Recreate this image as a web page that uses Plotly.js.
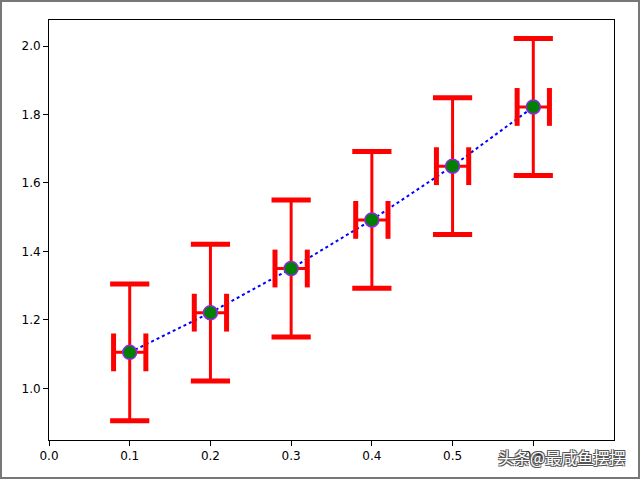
<!DOCTYPE html>
<html>
<head>
<meta charset="utf-8">
<script src="https://cdn.plot.ly/plotly-3.0.1.min.js"></script>
<style>
html,body{margin:0;padding:0;background:#fff;}
#wrap{position:relative;width:640px;height:479px;}
#chart{width:640px;height:479px;}
#frame{position:absolute;left:0;top:0;width:640px;height:479px;box-sizing:border-box;border:2px solid #777;pointer-events:none;}
</style>
</head>
<body>
<div id="wrap"><div id="chart"></div><div id="frame"></div></div>
<script>
const xVals = [0.1, 0.2, 0.3, 0.4, 0.5, 0.6];
const yVals = [1.105, 1.221, 1.350, 1.492, 1.649, 1.822];
const yErr = [0.2, 0.2, 0.2, 0.2, 0.2, 0.2];
const xErr = [0.02, 0.02, 0.02, 0.02, 0.02, 0.02];
const xTicks = [0.0, 0.1, 0.2, 0.3, 0.4, 0.5, 0.6];
const yTicks = [1.0, 1.2, 1.4, 1.6, 1.8, 2.0];
const watermark = '头条@最咸鱼摆摆';

const red = '#ff0000';
const traces = [
  {x: xVals, y: yVals, mode: 'lines', line: {color: '#0000ff', width: 2, dash: 'dot'}, hoverinfo: 'skip'},
  {x: xVals, y: yVals, mode: 'markers', marker: {size: 1, opacity: 0},
   error_y: {type: 'data', array: yErr, visible: true, color: red, thickness: 3, width: 0},
   error_x: {type: 'data', array: xErr, visible: true, color: red, thickness: 3, width: 0}},
  // caps for y errors
  {x: xVals.concat(xVals), y: yVals.map((v,i)=>v+yErr[i]).concat(yVals.map((v,i)=>v-yErr[i])),
   mode: 'markers', marker: {symbol: 'line-ew', size: 28, line: {color: red, width: 5}}},
  // caps for x errors
  {x: xVals.map((v,i)=>v+xErr[i]).concat(xVals.map((v,i)=>v-xErr[i])), y: yVals.concat(yVals),
   mode: 'markers', marker: {symbol: 'line-ns', size: 27, line: {color: red, width: 5}}},
  {x: xVals, y: yVals, mode: 'markers', marker: {color: 'green', size: 14, line: {color: '#8a2be2', width: 1.5}}}
];

const axisCommon = {
  showgrid: false, zeroline: false, showline: true, mirror: true,
  linecolor: '#000', linewidth: 1, ticks: 'outside', ticklen: 5, tickwidth: 1, tickcolor: '#000',
  tickfont: {family: 'DejaVu Sans', size: 12, color: '#000'}
};

const layout = {
  width: 640, height: 479,
  margin: {l: 49, r: 26, t: 20, b: 39},
  paper_bgcolor: '#fff', plot_bgcolor: '#fff',
  showlegend: false,
  xaxis: Object.assign({}, axisCommon, {range: [0, 0.7], tickvals: xTicks, tickformat: '.1f'}),
  yaxis: Object.assign({}, axisCommon, {range: [0.849, 2.076], tickvals: yTicks, tickformat: '.1f'}),
  annotations: [{
    text: watermark, xref: 'paper', yref: 'paper', x: 1.023, y: -0.04, xanchor: 'right', yanchor: 'middle',
    showarrow: false,
    font: {family: 'Noto Sans CJK SC', size: 16, color: '#ffffff',
      shadow: '-1px -1px 0 #555, 1px -1px 0 #555, -1px 1px 0 #555, 1px 1px 0 #555'}
  }]
};

Plotly.newPlot('chart', traces, layout, {staticPlot: true});
</script>
</body>
</html>
